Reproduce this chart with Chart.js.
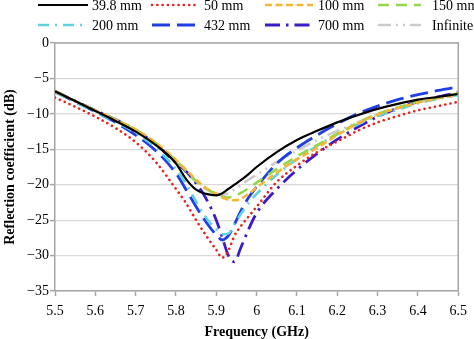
<!DOCTYPE html>
<html lang="en">
<head>
<meta charset="UTF-8">
<title>Reflection coefficient</title>
<style>
  html, body { margin: 0; padding: 0; background: #fff; }
  #wrap { width: 474px; height: 339px; }
</style>
</head>
<body>
<div id="wrap"><canvas id="chart" width="474" height="339"></canvas></div>
<script src="https://cdn.jsdelivr.net/npm/chart.js"></script>
<script>
// frequency points (GHz)
const freq = [5.5,5.55,5.6,5.65,5.7,5.75,5.8,5.825,5.85,5.875,5.9,5.915,5.93,5.945,5.96,5.98,6.0,6.05,6.1,6.15,6.2,6.25,6.3,6.35,6.4,6.45,6.5];

// reflection coefficient (dB) for each distance
const s39_8 = [-6.8,-8.2,-9.6,-11.0,-12.5,-14.4,-17.0,-19.2,-20.7,-21.3,-21.5,-21.2,-20.6,-20.0,-19.4,-18.5,-17.5,-15.4,-13.7,-12.4,-11.2,-10.2,-9.3,-8.6,-8.0,-7.6,-7.2];
const s50   = [-7.7,-9.0,-10.4,-12.0,-14.0,-16.8,-20.6,-22.6,-25.0,-27.2,-29.2,-30.3,-29.3,-27.2,-25.9,-24.5,-23.1,-19.6,-17.3,-15.4,-13.9,-12.4,-11.2,-10.3,-9.5,-8.9,-8.3];
const s100  = [-6.8,-8.2,-9.5,-10.8,-12.2,-14.1,-16.5,-17.9,-19.3,-20.5,-21.3,-21.8,-22.1,-22.2,-22.0,-21.3,-20.4,-18.3,-16.4,-14.8,-13.0,-11.4,-10.1,-9.2,-8.4,-7.8,-7.3];
const s150  = [-6.8,-8.2,-9.5,-10.8,-12.2,-14.1,-16.6,-18.0,-19.5,-20.6,-21.3,-21.7,-21.8,-21.6,-21.2,-20.5,-19.7,-17.8,-16.0,-14.4,-12.8,-11.3,-10.0,-9.1,-8.3,-7.7,-7.1];
const s200  = [-6.9,-8.3,-9.7,-11.1,-12.7,-14.8,-17.8,-19.9,-22.4,-24.7,-26.3,-27.0,-26.9,-25.6,-24.2,-22.6,-21.3,-18.6,-16.4,-14.5,-12.9,-11.5,-10.3,-9.4,-8.5,-7.9,-7.3];
const s432  = [-6.9,-8.3,-9.7,-11.2,-13.0,-15.2,-18.4,-20.7,-23.1,-25.3,-27.1,-27.8,-27.2,-25.6,-23.8,-21.8,-20.3,-17.0,-14.8,-13.0,-11.4,-10.0,-8.9,-8.0,-7.3,-6.7,-6.2];
const s700  = [-6.8,-8.2,-9.5,-10.8,-12.3,-14.3,-16.9,-18.1,-19.8,-22.0,-25.0,-27.5,-30.0,-30.9,-29.0,-26.3,-24.0,-20.6,-17.9,-15.6,-13.6,-11.9,-10.4,-9.2,-8.3,-7.6,-7.0];
const sInf  = [-6.8,-8.2,-9.6,-10.9,-12.4,-14.3,-16.9,-18.3,-19.6,-20.6,-21.2,-21.4,-21.2,-20.7,-20.1,-19.3,-18.6,-16.8,-15.2,-13.7,-12.4,-11.2,-10.1,-9.2,-8.4,-7.8,-7.3];

const seriesNames = ['39.8 mm','50 mm','100 mm','150 mm','200 mm','432 mm','700 mm','Infinite'];
const seriesValues = [s39_8, s50, s100, s150, s200, s432, s700, sInf];

// axis ticks
const xTicks = [5.5,5.6,5.7,5.8,5.9,6,6.1,6.2,6.3,6.4,6.5];
const yTicks = [0,-5,-10,-15,-20,-25,-30,-35];

const styles = [
  { color: '#000000', width: 2.2, dash: [],               cap: 'butt'  },
  { color: '#e8231e', width: 2.6, dash: [0.1, 5.2],       cap: 'round' },
  { color: '#f6b536', width: 2.6, dash: [7, 3.5],         cap: 'butt'  },
  { color: '#93d64a', width: 2.6, dash: [11, 7],          cap: 'butt'  },
  { color: '#5fd3dc', width: 2.6, dash: [11, 6, 2, 6],    cap: 'butt'  },
  { color: '#1f3ee3', width: 2.8, dash: [18, 7],          cap: 'butt'  },
  { color: '#3a1cc9', width: 2.8, dash: [15, 6, 2.5, 6],  cap: 'butt'  },
  { color: '#cbcbcb', width: 2.6, dash: [13, 5, 2, 5, 2, 5], cap: 'butt' }
];

const datasets = seriesNames.map((name, i) => ({
  label: name,
  data: freq.map((f, j) => ({ x: f, y: seriesValues[i][j] })),
  borderColor: styles[i].color,
  borderWidth: styles[i].width,
  borderDash: styles[i].dash,
  borderCapStyle: styles[i].cap,
  cubicInterpolationMode: 'monotone',
  pointRadius: 0,
  fill: false
}));

// legend drawn as a fixed 4x2 grid like the original
const legendGrid = {
  id: 'legendGrid',
  afterDraw(chart) {
    const ctx = chart.ctx;
    const lineStart = [38, 152, 265, 378];
    const lineEnd = [88, 197, 313, 421];
    const textX = [92, 204, 318, 432];
    const rowY = [5, 25];
    ctx.save();
    ctx.font = '14px "Liberation Serif", "Times New Roman", serif';
    ctx.textBaseline = 'middle';
    ctx.fillStyle = '#000';
    chart.data.datasets.forEach((ds, i) => {
      const col = i % 4, row = Math.floor(i / 4);
      const y = rowY[row];
      ctx.beginPath();
      ctx.setLineDash(ds.borderDash);
      ctx.lineCap = ds.borderCapStyle;
      ctx.strokeStyle = ds.borderColor;
      ctx.lineWidth = ds.borderWidth;
      ctx.moveTo(lineStart[col], y);
      ctx.lineTo(lineEnd[col], y);
      ctx.stroke();
      ctx.setLineDash([]);
      ctx.fillText(ds.label, textX[col], y + 1);
    });
    ctx.restore();
  }
};

// grey frame around plot area
const frame = {
  id: 'frame',
  afterDatasetsDraw(chart) {
    const a = chart.chartArea, ctx = chart.ctx;
    ctx.save();
    ctx.strokeStyle = '#a6a6a6';
    ctx.lineWidth = 1.5;
    ctx.beginPath();
    ctx.moveTo(a.left, a.top);
    ctx.lineTo(a.right, a.top);
    ctx.lineTo(a.right, a.bottom);
    ctx.stroke();
    ctx.restore();
  }
};

const serif = '"Liberation Serif", "Times New Roman", serif';

new Chart(document.getElementById('chart'), {
  type: 'line',
  data: { datasets: datasets },
  options: {
    responsive: false,
    animation: false,
    layout: { padding: { top: 43, right: 13, left: 0, bottom: 0 } },
    plugins: {
      legend: { display: false },
      tooltip: { enabled: false }
    },
    scales: {
      x: {
        type: 'linear',
        min: 5.5,
        max: 6.5,
        afterFit: s => { s.height = 48; },
        afterBuildTicks: s => { s.ticks = xTicks.map(v => ({ value: v })); },
        ticks: {
          color: '#000',
          font: { family: serif, size: 14 },
          padding: 7,
          maxRotation: 0,
          callback: v => String(Number(v.toFixed(1)))
        },
        grid: { display: true, drawOnChartArea: false, tickColor: '#a6a6a6', tickLength: 5, tickWidth: 1.5 },
        border: { color: '#a6a6a6', width: 1.5 },
        title: {
          display: true,
          text: 'Frequency (GHz)',
          color: '#000',
          font: { family: serif, size: 14, weight: 'bold', lineHeight: 1 },
          padding: { top: 0, bottom: 0 }
        }
      },
      y: {
        min: -35,
        max: 0,
        afterFit: s => { s.width = 55; },
        afterBuildTicks: s => { s.ticks = yTicks.map(v => ({ value: v })); },
        ticks: {
          color: '#000',
          font: { family: serif, size: 14 },
          padding: 1,
          callback: v => v < 0 ? '\u2212' + Math.abs(v) : String(v)
        },
        grid: { color: '#d9d9d9', lineWidth: 1.2, tickColor: '#a6a6a6', tickLength: 5, tickWidth: 1.5 },
        border: { color: '#a6a6a6', width: 1.5 },
        title: {
          display: true,
          text: 'Reflection coefficient (dB)',
          color: '#000',
          font: { family: serif, size: 14, weight: 'bold' },
          padding: { top: 2, bottom: 0 }
        }
      }
    }
  },
  plugins: [legendGrid, frame]
});
</script>
</body>
</html>
